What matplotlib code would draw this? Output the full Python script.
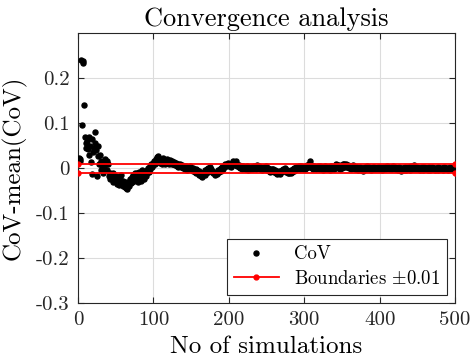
"""Convergence analysis: CoV minus its mean vs number of simulations,
with +/-0.01 acceptance boundaries."""

import numpy as np
import matplotlib
matplotlib.use("Agg")
import matplotlib.pyplot as plt

plt.rcParams["font.family"] = "serif"
plt.rcParams["font.serif"] = ["cmr10", "DejaVu Serif"]
plt.rcParams["mathtext.fontset"] = "cm"
plt.rcParams["axes.unicode_minus"] = False

# CoV - mean(CoV), in units of 1e-3
cov_early = [22, 15, 21, 240, 95, 238, 234, 140, 70, 55,
             45, 60, 42, 30, 68, 50, 13, -14, 64, 35,
             45, 55, 80, 40, -18, 50, 27, 10, 30, -5,
             15, 5, -10, 0, 8, 20, 10, -5, 15, 8]
cov_dip = [-18, -10, -25, -15, -20, -30, -12, -22, -28, -18,
           -25, -35, -20, -30, -38, -25, -15, -32, -40, -28,
           -35, -42, -30, -45, -47, -38, -30, -40, -25, -33,
           -20, -30, -15, -28, -10, -22, -25, -12, -30, -18,
           -8, -20, -28, -12, -5, -22, -15, -25, -10, -17,
           -5, -12, 0, -8, 5, -3, 8, 2, 12, 6]
cov_mid = [15, 10, 20, 18, 24, 27, 15, 20, 12, 18,
           10, 16, 22, 14, 8, 18, 12, 20, 15, 10,
           14, 18, 12, 8, 16, 10, 13, 6, 10, 12,
           5, 8, 3, 7, 10, 4, 2, 6, 0, 5,
           3, -2, 4, 1, -4, 2, 0, -3, 5, 1,
           -2, -6, 0, -4, -8, -3, -10, -5, -12, -7,
           -15, -10, -18, -13, -20, -12, -8, -15, -5, -10,
           -3, -8, 0, -5, 2, -4, -1, -6, -10, -8,
           -12, -15, -10, -14, -8, -5, -9, -3, -6, 0,
           2, -2, 5, 3, 8, 6, 10, 4, 12, 7]
cov_late = [5, 10, 3, 8, 12, 16, 10, 6, 15, 8,
            4, 7, 2, 6, 0, 5, 3, -2, 4, 1,
            -3, 2, -1, 4, 0, -4, 1, -2, 3, -1,
            2, -3, 0, 5, 1, -2, 3, 6, 0, 4,
            -2, 3, 1, -4, 2, 0, -3, 1, 4, -1,
            -4, 0, -6, -2, -8, -4, -1, -6, -3, -9,
            -5, -11, -7, -14, -9, -12, -6, -13, -8, -4,
            -7, -2, -5, 0, -3, -8, -4, -10, -6, -12,
            -8, -11, -5, -9, -3, -6, 0, -4, 2, -2,
            3, 0, 5, 1, -3, 4, 2, -1, 3, 0,
            -2, 4, 1, 6, 2, 8, 15, 3, 7, 0,
            4, -1, 5, 2, -3, 3, 0, 4, -2, 1,
            5, -1, 3, 0, -4, 2, -2, 4, 1, -3,
            2, -1, 3, -4, 0, 5, 1, -2, 3, -1,
            4, 8, 2, 6, 0, 7, 3, -2, 5, 1,
            8, 4, 9, 2, 6, 10, 3, 7, 0, 5,
            2, -2, 4, 0, 6, 1, -3, 3, -1, 2,
            -4, 0, -2, 3, -5, 1, -3, -6, 0, -2,
            2, -1, 4, -3, 0, 3, -2, 1, -4, 0,
            3, -1, 2, -3, 1, -2, 0, 3, -1, 2,
            -2, 1, -4, 0, 3, -1, 2, -3, 0, 4,
            1, -2, 3, 0, -3, 2, -1, 4, 0, -2,
            2, -3, 0, -5, -1, 3, -2, -6, 0, -3,
            1, -4, 2, -1, -5, 0, 3, -2, 1, -4,
            0, 4, -1, 2, -3, 6, 1, -2, 3, 0,
            -3, 1, -5, 0, -2, 3, -1, -4, 2, -2,
            0, -3, 1, -5, -2, 2, -4, 0, -1, 3,
            -2, 0, -4, 1, -3, -1, 2, -5, 0, -2,
            1, -3, 0, -4, 2, -1, -3, 1, -2, 0,
            -4, -1, 2, -3, 0, -2, 1, -4, -1, 0]

BOUND = 0.01
N_MAX = 500

cov = np.array(cov_early + cov_dip + cov_mid + cov_late) / 1000.0
n_sim = np.arange(1, len(cov) + 1)

fig = plt.figure(figsize=(4.74, 3.64), dpi=100)
ax = fig.add_axes([0.1646, 0.1676, 0.7954, 0.7414])

ax.plot(n_sim, cov, "o", color="black", markersize=3.6, label="CoV", zorder=3)
ax.plot([0, N_MAX], [BOUND, BOUND], ".-", color="red", lw=1.3, markersize=7,
        label=r"Boundaries $\pm$0.01", zorder=4)
ax.plot([0, N_MAX], [-BOUND, -BOUND], ".-", color="red", lw=1.3, markersize=7,
        zorder=4)

ax.set_xlim(0, 500)
ax.set_ylim(-0.3, 0.3)
ax.set_xticks([0, 100, 200, 300, 400, 500])
ax.set_yticks([-0.3, -0.2, -0.1, 0, 0.1, 0.2])
ax.set_yticklabels(["-0.3", "-0.2", "-0.1", "0", "0.1", "0.2"])
ax.grid(True, color="#dcdcdc", lw=0.8)
ax.set_axisbelow(True)
ax.tick_params(direction="in", top=True, right=True, labelsize=15,
               length=4, pad=6, color="#262626", labelcolor="#262626")
for s in ax.spines.values():
    s.set_color("#262626")
    s.set_linewidth(0.8)

ax.set_title("Convergence analysis", fontsize=19, pad=5)
ax.set_xlabel("No of simulations", fontsize=18, labelpad=5)
ax.set_ylabel("CoV-mean(CoV)", fontsize=18, labelpad=7)

leg = ax.legend(loc="lower right", fontsize=13.5, numpoints=1, fancybox=False,
                framealpha=1, edgecolor="#262626", borderpad=0.35,
                handlelength=2.4, labelspacing=0.35, borderaxespad=0.45)
leg.get_frame().set_linewidth(0.8)

fig.savefig("out.png", dpi=100)
